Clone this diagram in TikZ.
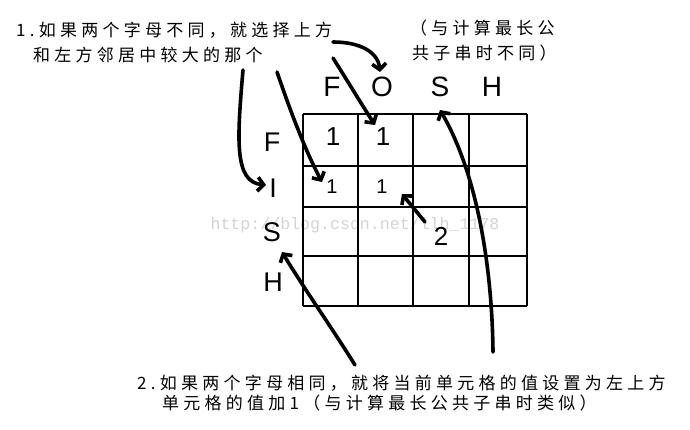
\documentclass[tikz,border=0pt]{standalone}
\usepackage{fontspec}
\usetikzlibrary{arrows.meta}
\newfontfamily\cjkfont[LetterSpace=25]{Noto Sans CJK SC}
\newfontfamily\latfont{Liberation Sans}
\newfontfamily\wmfont{Liberation Mono}
\begin{document}
\begin{tikzpicture}[x=1pt,y=-1pt,
  note/.style={inner sep=0pt, anchor=west, font=\cjkfont\fontsize{17}{17}\selectfont},
  letter/.style={inner sep=0pt, font=\latfont\fontsize{28}{28}\selectfont},
  rowletter/.style={inner sep=0pt, font=\latfont\fontsize{27}{27}\selectfont},
  valbig/.style={inner sep=0pt, font=\latfont\fontsize{26}{26}\selectfont},
  valsmall/.style={inner sep=0pt, font=\latfont\fontsize{20}{20}\selectfont},
  watermark/.style={inner sep=0pt, text=black!17, font=\wmfont\fontsize{16.6}{16.6}\selectfont},
  gridline/.style={line width=1.6pt},
  bigarrow/.style={line width=3.6pt, line cap=round, -{Straight Barb[length=6pt,width=14pt]}},
]
\useasboundingbox (0,0) rectangle (690,429);
\fill[white] (0,0) rectangle (690,429);

% watermark
\node[watermark] (wmk) at (355,225) {http://blog.csdn.net/llh\_1178};

% grid
\foreach \x in {303,358,413,469,527} \draw[gridline] (\x,114) -- (\x,306);
\foreach \y in {114,166,207,256,306} \draw[gridline] (303,\y) -- (527,\y);

% column labels
\node[letter] (cF) at (332,87) {F};
\node[letter] (cO) at (382,87) {O};
\node[letter] (cS) at (440,87) {S};
\node[letter] (cH) at (492,87) {H};
% row labels
\node[rowletter] (rF) at (272,142) {F};
\node[rowletter] (rI) at (273,188) {I};
\node[rowletter] (rS) at (272,232) {S};
\node[rowletter] (rH) at (273,282) {H};
% values
\node[valbig] (v11) at (333,137) {1};
\node[valbig] (v12) at (383,137) {1};
\node[valsmall] (v21) at (332,187) {1};
\node[valsmall] (v22) at (382,187) {1};
\node[valbig] (v33) at (441,236) {2};

% texts
\node[note] (t1a) at (16,30) {1.如果两个字母不同，就选择上方};
\node[note] (t1b) at (33,55) {和左方邻居中较大的那个};
\node[note] (t2a) at (410,28) {（与计算最长公};
\node[note] (t2b) at (412,53) {共子串时不同）};
\node[note] (t3a) at (137,383) {2.如果两个字母相同，就将当前单元格的值设置为左上方};
\node[note] (t3b) at (162,403) {单元格的值加1（与计算最长公共子串时类似）};

% arrow end points
\coordinate (a1s) at (243,70);  \coordinate (a1e) at (266,185);
\coordinate (a2s) at (277,72);  \coordinate (a2e) at (322,182);
\coordinate (a3s) at (333,42);  \coordinate (a3e) at (380,72);
\coordinate (a4s) at (333,58);  \coordinate (a4e) at (375,125);
\coordinate (a5s) at (425,222); \coordinate (a5e) at (402,194);
\coordinate (a6s) at (493,352); \coordinate (a6e) at (440,110);
\coordinate (a7s) at (355,365); \coordinate (a7e) at (282,252);

\draw[bigarrow] (a1s) .. controls (237,140) and (234,182) .. (a1e);
\draw[bigarrow] (a2s) .. controls (290,110) and (305,150) .. (a2e);
\draw[bigarrow] (a3s) .. controls (360,42) and (378,52) .. (a3e);
\draw[bigarrow] (a4s) .. controls (350,85) and (362,105) .. (a4e);
\draw[bigarrow] (a5s) -- (a5e);
\draw[bigarrow] (a6s) .. controls (492,260) and (475,170) .. (a6e);
\draw[bigarrow] (a7s) .. controls (330,325) and (305,290) .. (a7e);
\end{tikzpicture}
\end{document}
